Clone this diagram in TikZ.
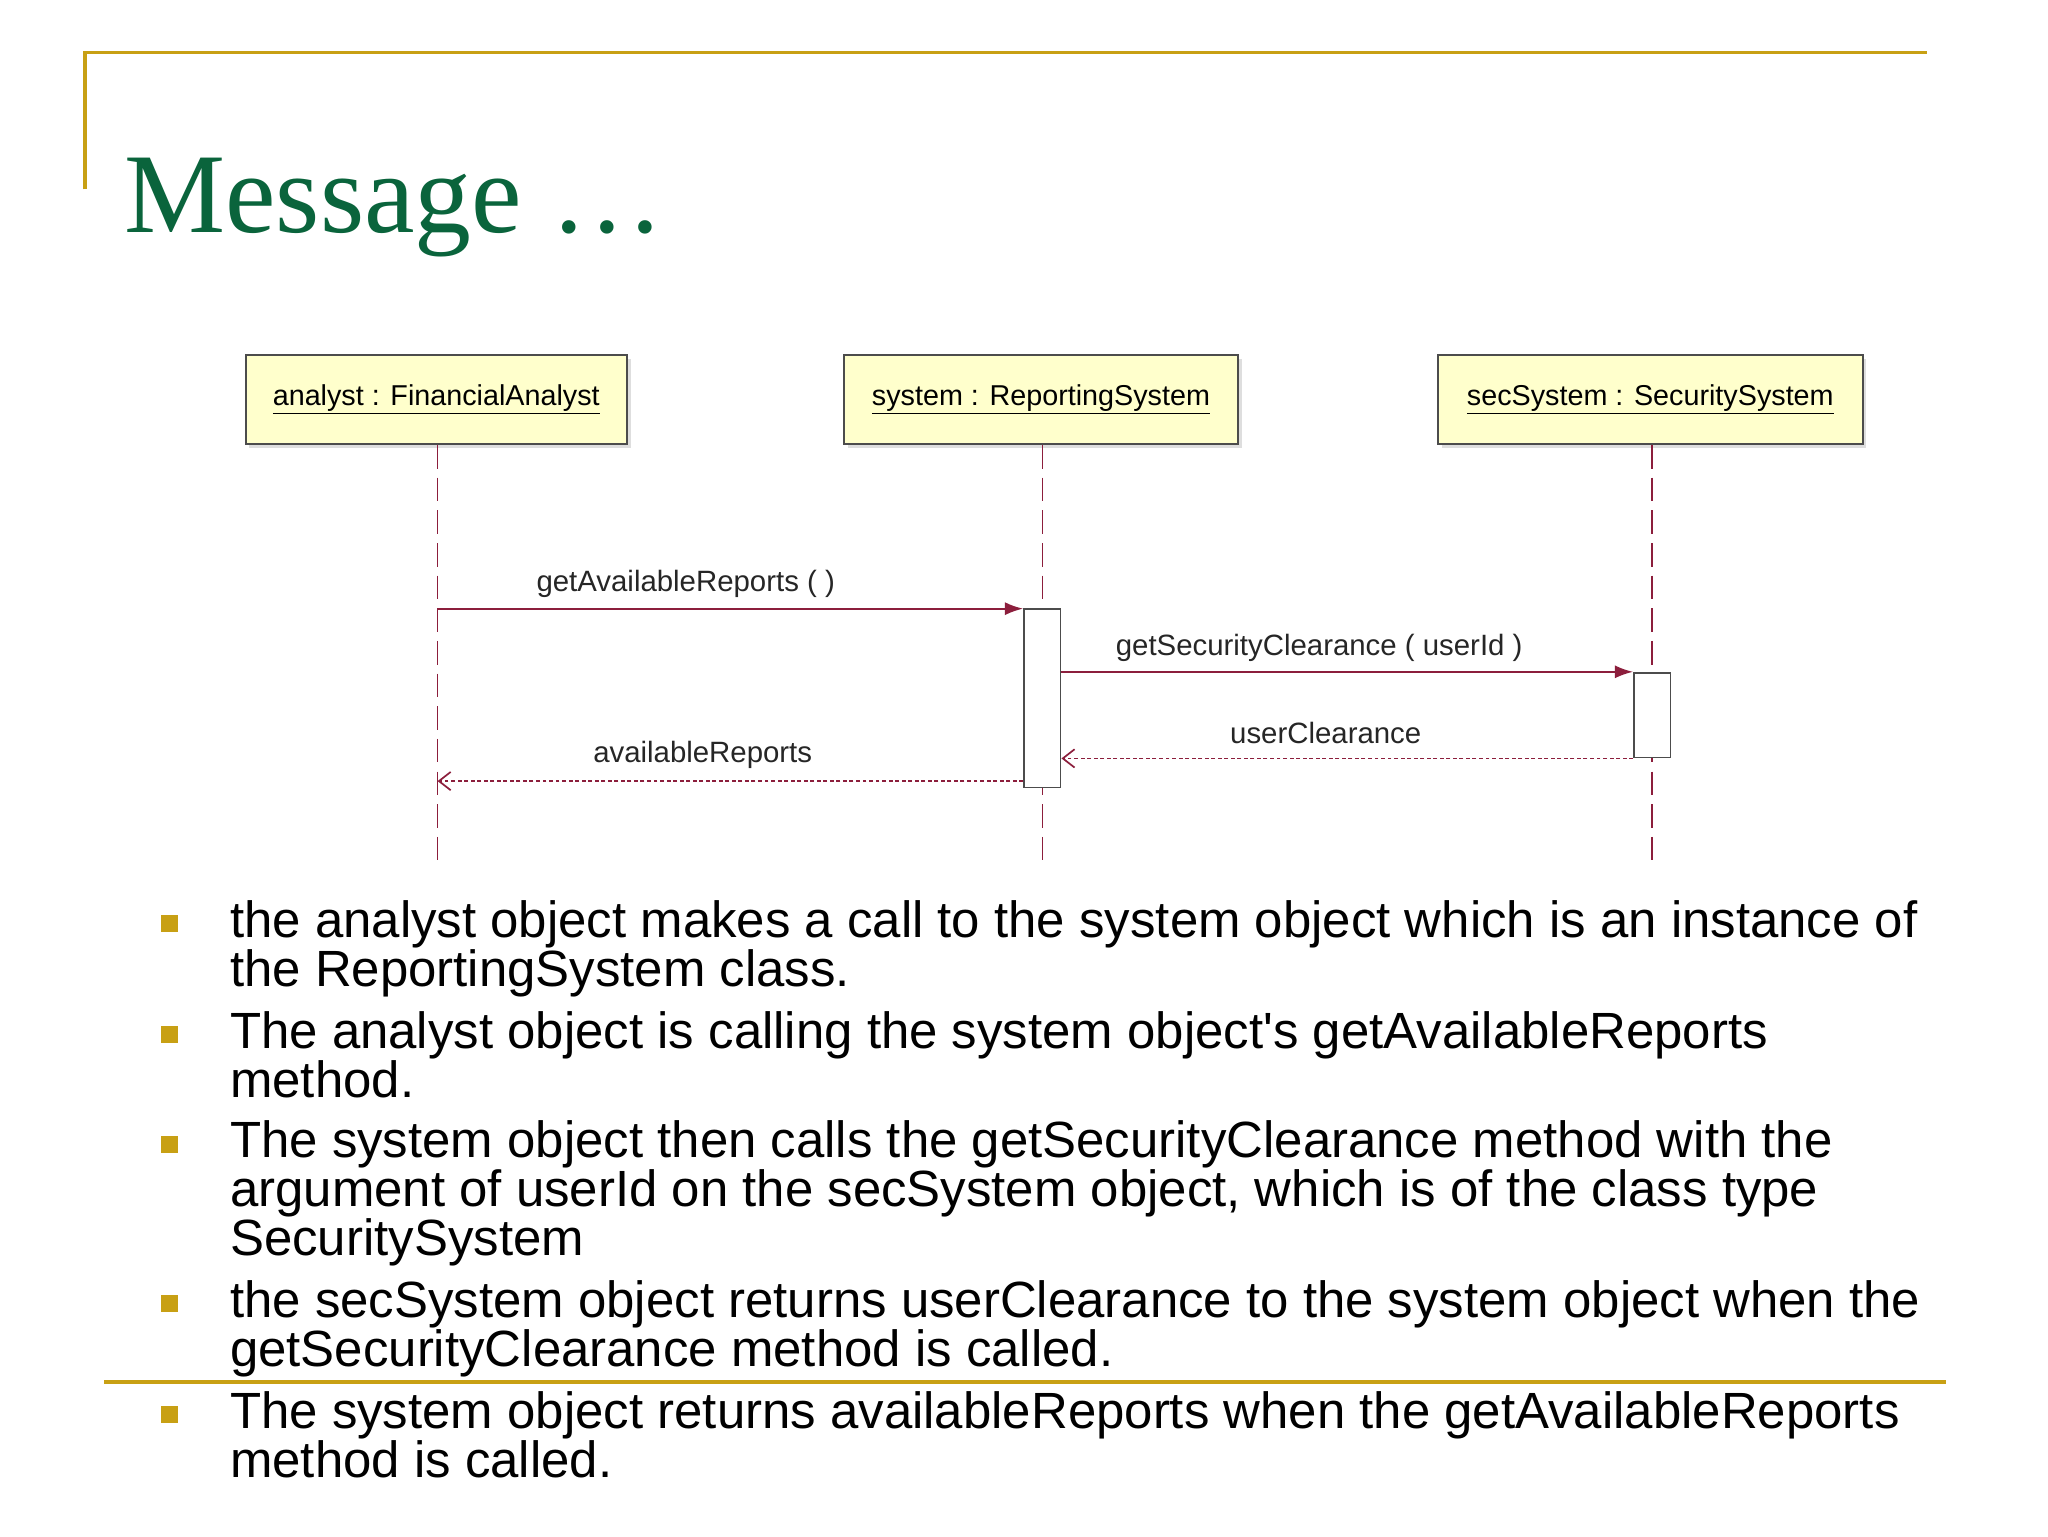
\documentclass[tikz,border=0pt]{standalone}
\usepackage{fontspec}
\setmainfont{Liberation Sans}
\newfontfamily\titlefont{Liberation Serif}
\usepackage{tikz}
\usetikzlibrary{positioning, arrows.meta, calc, shadows}
\definecolor{gold}{RGB}{200,160,20}
\definecolor{titlegreen}{RGB}{10,100,60}
\definecolor{lifered}{RGB}{140,30,60}
\definecolor{boxyellow}{RGB}{255,255,204}

\begin{document}
\begin{tikzpicture}[x=1pt, y=-1pt,
        obj/.style={draw=black!70, line width=1.5pt, fill=boxyellow, minimum height=68pt, inner sep=0pt, drop shadow={shadow xshift=3pt, shadow yshift=-3pt, fill=black!25}, font=\fontsize{22}{24}\selectfont},
        life/.style={draw=lifered, line width=1.2pt, dash pattern=on 18pt off 7pt},
        act/.style={draw=black!70, fill=white, line width=1.3pt, minimum width=28pt, inner sep=0pt},
        call/.style={draw=lifered, line width=1.5pt, -{Latex[length=14pt, width=10pt]}},
        reply/.style={draw=lifered, line width=1.3pt, dash pattern=on 3pt off 2pt, -{Straight Barb[length=9pt, width=14pt]}},
        msg/.style={font=\fontsize{22.5}{24}\selectfont, text=black!85},
        bullet/.style={fill=gold, minimum size=13pt, inner sep=0pt},
        item/.style={anchor=north west, align=left, inner sep=0pt, font=\fontsize{39}{37.5}\selectfont}]
      \useasboundingbox[fill=white] (0,0) rectangle (1568,1176);

      % Slide frame and title
      \draw[gold, line width=2.5pt] (65,145) -- (65,40) -- (1475,40);
      \draw[gold, line width=2.5pt] (80,1058) -- (1490,1058);
      \node[anchor=base west, inner sep=0pt, text=titlegreen, font=\titlefont\fontsize{87}{90}\selectfont] (title) at (95,178) {Message \ldots};

      % Objects
      \node[obj, minimum width=292pt] (analyst) at (334,306) {\underline{analyst : FinancialAnalyst}};
      \node[obj, minimum width=302pt] (system) at (797,306) {\underline{system : ReportingSystem}};
      \node[obj, minimum width=325pt] (secsys) at (1263.5,306) {\underline{secSystem : SecuritySystem}};

      % Lifelines
      \coordinate (aEnd) at (335,662);
      \coordinate (sEnd) at (798,662);
      \coordinate (cEnd) at (1265,662);
      \draw[life] (analyst.south -| aEnd) -- (aEnd);
      \draw[life] (system.south -| sEnd) -- (sEnd);
      \draw[life] (secsys.south -| cEnd) -- (cEnd);

      % Activations
      \node[act, minimum height=137pt] (sysAct) at (798,534.5) {};
      \node[act, minimum height=65pt] (secAct) at (1265,547.5) {};

      % Messages
      \coordinate (aCall) at (335,466);
      \coordinate (aBack) at (335,598);
      \draw[call] (aCall) -- (aCall -| sysAct.west);
      \node[msg] (m1) at (525,447) {getAvailableReports ( )};
      \draw[call] (sysAct.east |- secAct.north) -- (secAct.north west);
      \node[msg] (m2) at (1010,496) {getSecurityClearance ( userId )};
      \draw[reply] (secAct.south west) -- (secAct.south -| sysAct.east);
      \node[msg] (m3) at (1015,561) {userClearance};
      \draw[reply] (sysAct.west |- aBack) -- (aBack);
      \node[msg] (m4) at (538,578) {availableReports};

      % Bullet points
      \foreach \y/\txt [count=\i] in {
          689/{the analyst object makes a call to the system object which is an instance of\\the ReportingSystem class.},
          774/{The analyst object is calling the system object\textquotesingle s getAvailableReports\\method.},
          858/{The system object then calls the getSecurityClearance method with the\\argument of userId on the secSystem object, which is of the class type\\SecuritySystem},
          980/{the secSystem object returns userClearance to the system object when the\\getSecurityClearance method is called.},
          1065/{The system object returns availableReports when the getAvailableReports\\method is called.}} {
        \node[bullet] (b\i) at (130,\y+18) {};
        \node[item] (t\i) at (176,\y) {\txt};
      }
\end{tikzpicture}
\end{document}
